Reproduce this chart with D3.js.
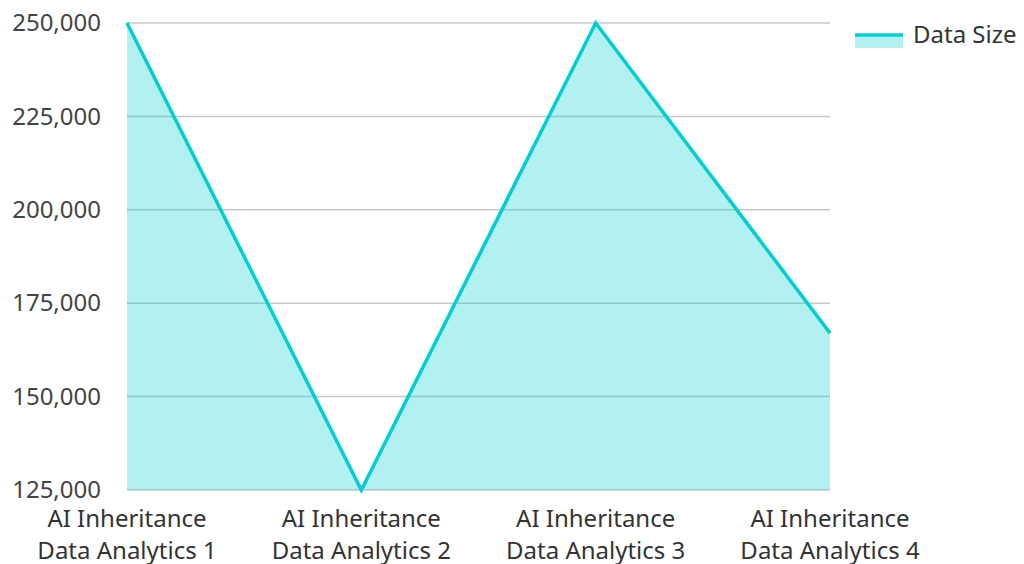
<!DOCTYPE html>
<html>
<head>
<meta charset="utf-8">
<script src="https://cdn.jsdelivr.net/npm/d3@7"></script>
<style>
  html, body { margin: 0; padding: 0; background: #fff; }
  svg { display: block; font-family: "Noto Sans", "Open Sans", sans-serif; }
</style>
</head>
<body>
<svg id="chart" width="1024" height="564"></svg>
<script>
// Data Size per analytics stage
const categories = [
  ["AI Inheritance", "Data Analytics 1"],
  ["AI Inheritance", "Data Analytics 2"],
  ["AI Inheritance", "Data Analytics 3"],
  ["AI Inheritance", "Data Analytics 4"]
];
const dataSize = [250000, 125000, 250000, 167000];
const yTicks = [125000, 150000, 175000, 200000, 225000, 250000];
const seriesName = "Data Size";

const W = 1024, H = 564;
const margin = { left: 127, right: 194, top: 23, bottom: 74 };
const lineColor = "#00ced1";
const fillColor = "rgba(0, 206, 209, 0.3)";
const fontSize = 24;

const svg = d3.select("#chart");

const x = d3.scalePoint()
  .domain(d3.range(categories.length))
  .range([margin.left, W - margin.right]);

const y = d3.scaleLinear()
  .domain([125000, 250000])
  .range([H - margin.bottom, margin.top]);

// horizontal gridlines
svg.append("g")
  .selectAll("line")
  .data(yTicks)
  .join("line")
  .attr("x1", margin.left)
  .attr("x2", W - margin.right)
  .attr("y1", d => y(d))
  .attr("y2", d => y(d))
  .attr("stroke", "#c8c8c8")
  .attr("stroke-width", 1.5);

// y axis labels
const yAxis = svg.append("g")
  .attr("transform", `translate(${margin.left - 26},0)`)
  .call(d3.axisLeft(y).tickValues(yTicks).tickFormat(d3.format(",")).tickSize(0).tickPadding(0));
yAxis.select(".domain").remove();
yAxis.selectAll("text")
  .attr("font-size", fontSize)
  .attr("font-family", "'Noto Sans', 'Open Sans', sans-serif")
  .attr("fill", "#444");

// area under the series
const area = d3.area()
  .x((d, i) => x(i))
  .y0(y(125000))
  .y1(d => y(d));
svg.append("path")
  .datum(dataSize)
  .attr("d", area)
  .attr("fill", fillColor);

const line = d3.line()
  .x((d, i) => x(i))
  .y(d => y(d));
svg.append("path")
  .datum(dataSize)
  .attr("d", line)
  .attr("fill", "none")
  .attr("stroke", lineColor)
  .attr("stroke-width", 3.5)
  .attr("stroke-linejoin", "miter");

// category labels (two lines each)
const xAxis = svg.append("g");
categories.forEach((lines, i) => {
  const t = xAxis.append("text")
    .attr("x", x(i))
    .attr("y", H - margin.bottom + 37)
    .attr("text-anchor", "middle")
    .attr("font-size", fontSize)
    .attr("fill", "#333");
  lines.forEach((ln, j) => {
    t.append("tspan")
      .attr("x", x(i))
      .attr("dy", j === 0 ? 0 : 32)
      .text(ln);
  });
});

// legend
const legend = svg.append("g").attr("transform", "translate(855,35)");
legend.append("rect")
  .attr("x", 0).attr("y", 0).attr("width", 48).attr("height", 13)
  .attr("fill", fillColor);
legend.append("line")
  .attr("x1", 0).attr("x2", 48).attr("y1", 0).attr("y2", 0)
  .attr("stroke", lineColor).attr("stroke-width", 3.5);
legend.append("text")
  .attr("x", 58).attr("y", 8)
  .attr("font-size", fontSize)
  .attr("fill", "#333")
  .text(seriesName);
</script>
</body>
</html>
